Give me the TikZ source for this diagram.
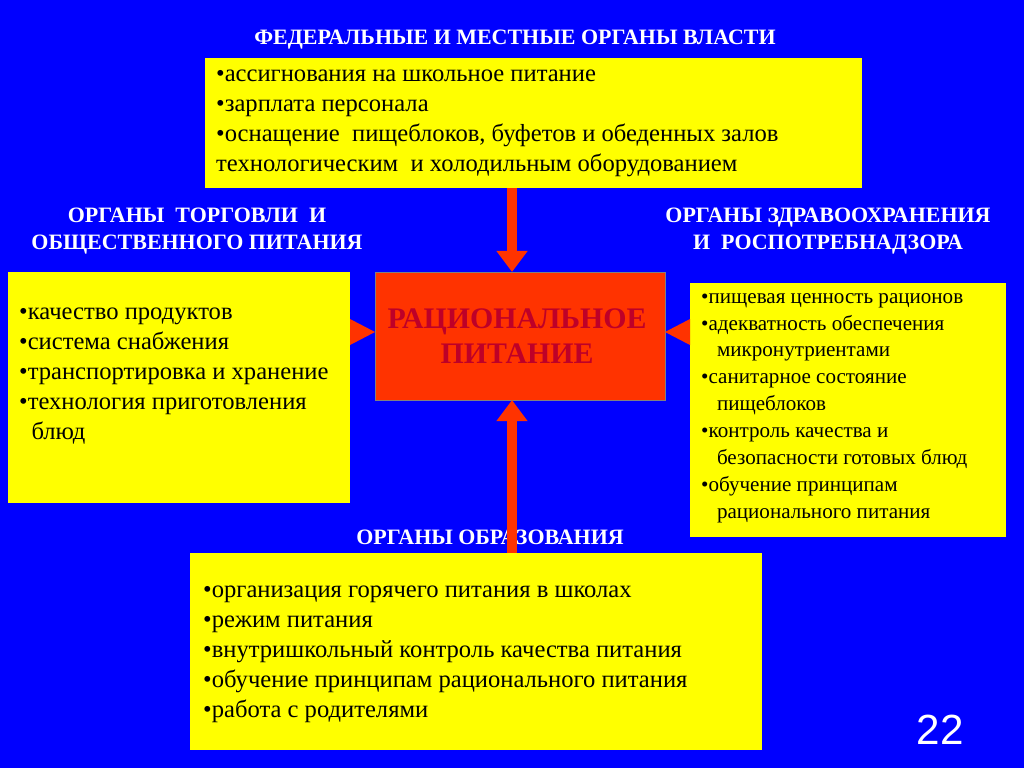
\documentclass[tikz,border=0pt]{standalone}
\usepackage{fontspec}
\setmainfont{Liberation Serif}
\newfontfamily\numfont{Liberation Sans}
\usetikzlibrary{arrows.meta}
\definecolor{bgblue}{RGB}{0,0,255}
\definecolor{boxyellow}{RGB}{255,255,0}
\definecolor{corered}{RGB}{255,51,0}
\definecolor{coretext}{RGB}{190,0,40}
\begin{document}
\begin{tikzpicture}[x=0.02cm,y=-0.02cm]
\tikzstyle{infobox}=[fill=boxyellow,draw=black!60,anchor=north west,align=left,inner sep=0pt,font=\fontsize{14}{17}\selectfont]
\tikzstyle{heading}=[text=white,font=\bfseries\fontsize{12.5}{15}\selectfont,align=center]
\tikzstyle{link}=[corered,line width=5.7pt,-{Triangle[length=12pt,width=17pt]}]
\fill[bgblue] (0,0) rectangle (1024,768);
% boxes
\fill[boxyellow] (205,58) rectangle (862,188);
\node[anchor=north west,align=left,font=\fontsize{14}{17}\selectfont] at (210,64) {•ассигнования на школьное питание\\•зарплата персонала\\•оснащение \ пищеблоков, буфетов и обеденных залов\\технологическим \ и холодильным оборудованием};
\coordinate (topS) at (512,188);
\fill[boxyellow] (8,272) rectangle (350,503);
\node[anchor=north west,align=left,font=\fontsize{14}{17}\selectfont] at (13,302) {•качество продуктов\\•система снабжения\\•транспортировка и хранение\\•технология приготовления\\\ \ блюд};
\coordinate (leftE) at (350,332);
\fill[corered] (375,272) rectangle (665,400);
\draw[black!50] (375,272) rectangle (665,400);
\node[text=coretext,font=\bfseries\fontsize{17}{20}\selectfont,align=center] (core) at (517,336) {РАЦИОНАЛЬНОЕ\\ПИТАНИЕ};
\coordinate (coreN) at (512,272);
\coordinate (coreS) at (512,400);
\coordinate (coreW) at (375,332);
\coordinate (coreE) at (665,332);
\fill[boxyellow] (690,283) rectangle (1006,537);
\node[anchor=north west,align=left,font=\fontsize{12}{15.3}\selectfont] at (695,287) {•пищевая ценность рационов\\•адекватность обеспечения\\\ \ \ микронутриентами\\•санитарное состояние\\\ \ \ пищеблоков\\•контроль качества и\\\ \ \ безопасности готовых блюд\\•обучение принципам\\\ \ \ рационального питания};
\coordinate (rightW) at (690,332);
\fill[boxyellow] (190,553) rectangle (762,750);
\node[anchor=north west,align=left,font=\fontsize{14}{17}\selectfont] at (197,580) {•организация горячего питания в школах\\•режим питания\\•внутришкольный контроль качества питания\\•обучение принципам рационального питания\\•работа с родителями};
\coordinate (botN) at (512,553);
% headings
\node[heading] (hTop) at (515,40) {ФЕДЕРАЛЬНЫЕ И МЕСТНЫЕ ОРГАНЫ ВЛАСТИ};
\node[heading] (hLeft) at (197,231) {ОРГАНЫ \ ТОРГОВЛИ \ И\\ОБЩЕСТВЕННОГО ПИТАНИЯ};
\node[heading] (hRight) at (828,231) {ОРГАНЫ ЗДРАВООХРАНЕНИЯ\\И \ РОСПОТРЕБНАДЗОРА};
\node[heading] (hBot) at (490,537) {ОРГАНЫ ОБРАЗОВАНИЯ};
\node[text=white,font=\numfont\fontsize{24}{28}\selectfont] (page) at (940,730) {22};
% arrows
\draw[link] (topS) -- (coreN);
\draw[link] (botN) -- (coreS);
\fill[corered] (leftE) ++(0,-13) -- (coreW) -- (350,345) -- cycle;
\fill[corered] (rightW) ++(0,-13) -- (coreE) -- (690,345) -- cycle;
\end{tikzpicture}
\end{document}
